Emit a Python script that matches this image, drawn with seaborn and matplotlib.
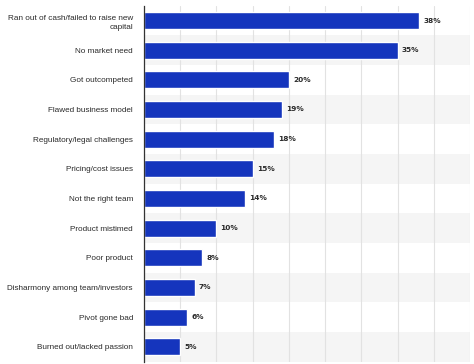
import matplotlib
matplotlib.use("Agg")
import matplotlib.pyplot as plt
import seaborn as sns
import pandas as pd

categories = [
    "Ran out of cash/failed to raise new\ncapital",
    "No market need",
    "Got outcompeted",
    "Flawed business model",
    "Regulatory/legal challenges",
    "Pricing/cost issues",
    "Not the right team",
    "Product mistimed",
    "Poor product",
    "Disharmony among team/investors",
    "Pivot gone bad",
    "Burned out/lacked passion",
]
values = [38, 35, 20, 19, 18, 15, 14, 10, 8, 7, 6, 5]

df = pd.DataFrame({"reason": categories, "share": values})

sns.set_theme(style="white")
plt.rcParams["font.family"] = ["Liberation Sans", "DejaVu Sans"]

fig = plt.figure(figsize=(4.74, 3.64), dpi=100)
ax = fig.add_axes([0.3038, 0.0066, 0.6878, 0.9778])

# alternating row bands
for i in range(len(categories)):
    if i % 2 == 1:
        ax.axhspan(i - 0.5, i + 0.5, color="#f5f5f5", zorder=0, lw=0)

sns.barplot(data=df, x="share", y="reason", orient="h", color="#1535bd",
            saturation=1, width=0.58, ax=ax, zorder=2)

ax.set_xlim(0, 45)
ax.set_ylim(len(categories) - 0.5, -0.5)
ax.set_xticks(range(0, 46, 5))
ax.set_xticklabels([])
ax.grid(axis="x", color="#e2e2e2", lw=0.8, zorder=1)
ax.set_axisbelow(True)
ax.tick_params(axis="x", length=0)
ax.tick_params(axis="y", length=0, pad=8, labelsize=5.85, labelcolor="#2a2a2a")
for lbl in ax.get_yticklabels():
    lbl.set_linespacing(1.45)
ax.set_xlabel("")
ax.set_ylabel("")
for s in ["top", "right", "bottom"]:
    ax.spines[s].set_visible(False)
ax.spines["left"].set_color("#333333")
ax.spines["left"].set_linewidth(0.9)
ax.spines["left"].set_zorder(5)

for cont in ax.containers:
    ax.bar_label(cont, labels=[f"{v}%" for v in values], padding=3,
                 fontsize=5.3, fontweight="bold", color="#2a2a2a",
                 family="DejaVu Sans")

fig.savefig("out.png", dpi=100)
